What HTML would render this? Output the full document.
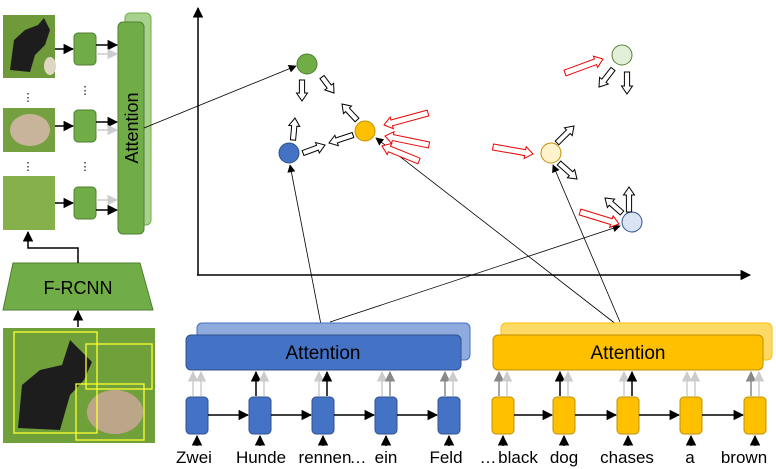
<!DOCTYPE html>
<html><head><meta charset="utf-8"><style>
html,body{margin:0;padding:0;background:#fff;width:776px;height:469px;overflow:hidden}
text{font-family:"Liberation Sans",sans-serif}
</style></head><body>
<svg id="s" width="776" height="469" viewBox="0 0 776 469" xmlns="http://www.w3.org/2000/svg">
<defs>
<marker id="a" viewBox="0 0 10 10" refX="9" refY="5" markerWidth="7" markerHeight="7" orient="auto"><path d="M0,0L10,5L0,10z" fill="#000"/></marker>
<marker id="ag" viewBox="0 0 10 10" refX="9" refY="5" markerWidth="7" markerHeight="7" orient="auto"><path d="M0,0L10,5L0,10z" fill="#ccc"/></marker>
<marker id="ad" viewBox="0 0 10 10" refX="9" refY="5" markerWidth="7" markerHeight="7" orient="auto"><path d="M0,0L10,5L0,10z" fill="#888"/></marker>
<marker id="as" viewBox="0 0 10 10" refX="9" refY="5" markerWidth="10" markerHeight="10" orient="auto"><path d="M0,0L10,5L0,10z" fill="#000"/></marker>
</defs>
<line x1="198" y1="275" x2="198" y2="8" stroke="#000" stroke-width="1.5" marker-end="url(#a)"/>
<line x1="197" y1="275" x2="750" y2="275" stroke="#000" stroke-width="1.5" marker-end="url(#a)"/>

<g>
<rect x="3" y="15" width="52" height="63" fill="#6f9a3a"/>
<path d="M10,70 L14,40 L25,30 L38,25 L44,18 L50,30 L45,45 L35,55 L30,72 Z" fill="#1d1d1d"/>
<ellipse cx="50" cy="66" rx="6" ry="9" fill="#e0d6c4"/>
<rect x="3" y="108" width="52" height="44" fill="#74a040"/>
<ellipse cx="30" cy="130" rx="20" ry="16" fill="#c8b49a"/>
<rect x="3" y="176" width="52" height="54" fill="#86b04c"/>
<text x="28" y="101" font-size="11" text-anchor="middle">⋮</text>
<text x="28" y="170" font-size="11" text-anchor="middle">⋮</text>
<text x="85" y="94" font-size="11" text-anchor="middle">⋮</text>
<text x="85" y="170" font-size="11" text-anchor="middle">⋮</text>
</g>
<g fill="#70ad47" stroke="#507e32" stroke-width="1">
<rect x="74" y="33" width="22" height="32" rx="4"/>
<rect x="74" y="110" width="22" height="32" rx="4"/>
<rect x="74" y="187" width="22" height="32" rx="4"/>
<rect x="125" y="13" width="26" height="212" rx="5" fill="#a9d18e" stroke="#70ad47"/>
<rect x="118" y="22" width="26" height="212" rx="5"/>
</g>
<text transform="translate(138,128) rotate(-90)" font-size="18" text-anchor="middle">Attention</text>
<g stroke="#000" stroke-width="1.5" marker-end="url(#a)">
<line x1="55" y1="49" x2="73" y2="49"/>
<line x1="55" y1="126" x2="73" y2="126"/>
<line x1="55" y1="203" x2="73" y2="203"/>
<line x1="96" y1="45" x2="117" y2="45"/>
<line x1="96" y1="122" x2="117" y2="122"/>
<line x1="96" y1="210" x2="117" y2="210"/>
</g>
<g stroke="#ccc" stroke-width="1.5" marker-end="url(#ag)">
<line x1="96" y1="54" x2="117" y2="54"/>
<line x1="96" y1="130" x2="117" y2="130"/>
<line x1="96" y1="200" x2="117" y2="200"/>
</g>
<polygon points="13,263 140,263 153,310 3,310" fill="#70ad47" stroke="#507e32"/>
<text x="78" y="294" font-size="18" text-anchor="middle">F-RCNN</text>
<polyline points="78,263 78,248 28,248 28,232" fill="none" stroke="#000" stroke-width="1.5" marker-end="url(#a)"/>
<line x1="78" y1="327" x2="78" y2="311" stroke="#000" stroke-width="1.5" marker-end="url(#a)"/>
<rect x="3" y="328" width="152" height="115" fill="#6fa03a"/>
<path d="M18,428 L22,385 L40,370 L62,365 L70,340 L80,350 L92,362 L84,380 L70,395 L60,430 Z" fill="#1d1d1d"/>
<ellipse cx="115" cy="412" rx="28" ry="22" fill="#bca68a"/>
<g fill="none" stroke="#ffff33" stroke-width="1.3">
<rect x="14" y="332" width="83" height="101"/>
<rect x="86" y="344" width="66" height="45"/>
<rect x="76" y="384" width="68" height="56"/>
</g>

<g stroke="#000" stroke-width="0.8" fill="none" marker-end="url(#as)">
<line x1="144" y1="128" x2="296" y2="66"/>
<line x1="323" y1="335" x2="290" y2="165"/>
<line x1="330" y1="322" x2="620" y2="226"/>
<line x1="630" y1="335" x2="376" y2="138"/>
<line x1="620" y1="322" x2="553" y2="165"/>
</g>

<circle cx="307" cy="64" r="10" fill="#70ad47" stroke="#507e32"/>
<circle cx="289" cy="153" r="10" fill="#4472c4" stroke="#2f528f"/>
<circle cx="365" cy="131" r="10" fill="#ffc000" stroke="#bf9000"/>
<circle cx="622" cy="55" r="10" fill="#e2f0d9" stroke="#548235"/>
<circle cx="551" cy="153" r="10" fill="#fff2cc" stroke="#bf9000"/>
<circle cx="632" cy="222" r="10" fill="#dae3f3" stroke="#2f528f"/>
<g id="arr"></g>

<rect x="197" y="323" width="273" height="37" rx="5" fill="#8faadc" stroke="#4472c4"/>
<rect x="186" y="335" width="275" height="35" rx="5" fill="#4472c4" stroke="#2f528f"/>
<text x="323" y="359" font-size="19" text-anchor="middle">Attention</text>
<rect x="501" y="323" width="271" height="37" rx="5" fill="#ffd966" stroke="#ffc000"/>
<rect x="493" y="335" width="270" height="35" rx="5" fill="#ffc000" stroke="#bf9000"/>
<text x="628" y="359" font-size="19" text-anchor="middle">Attention</text>
<g id="seq"></g>
</svg>
<script>
var NS="http://www.w3.org/2000/svg";
function el(p,t,a){var e=document.createElementNS(NS,t);for(var k in a)e.setAttribute(k,a[k]);p.appendChild(e);return e;}
var g=document.getElementById("arr");
function blk(x1,y1,x2,y2,c){var dx=x2-x1,dy=y2-y1,L=Math.sqrt(dx*dx+dy*dy),an=Math.atan2(dy,dx)*180/Math.PI;
var h=Math.min(8,L*0.45),sw=c=="red"?3:2.6,hw=c=="red"?6:5.5;
el(g,"polygon",{points:"0,"+(-sw)+" "+(L-h)+","+(-sw)+" "+(L-h)+","+(-hw)+" "+L+",0 "+(L-h)+","+hw+" "+(L-h)+","+sw+" 0,"+sw,
fill:"#fff",stroke:c=="red"?"#e00":"#000","stroke-width":1,transform:"translate("+x1+","+y1+") rotate("+an+")"});}
var A=[[302,80,302,101,0],[322,77,334,93,0],[293,140,295,118,0],[303,153,325,145,0],[357,120,342,104,0],[353,135,329,143,0],
[428,113,384,125,1],[429,145,385,136,1],[419,161,382,146,1],
[565,73,603,59,1],[613,69,599,87,0],[627,72,627,94,0],
[493,147,533,154,1],[557,143,574,126,0],[559,163,577,179,0],
[580,212,619,224,1],[622,213,605,198,0],[629,212,629,187,0]];
A.forEach(function(a){blk(a[0],a[1],a[2],a[3],a[4]?"red":"blk");});
var s=document.getElementById("seq");
function seq(xs,fill,st,words,wx,pat){
 for(var i=0;i<xs.length;i++){var x=xs[i];
  el(s,"rect",{x:x-11,y:397,width:22,height:37,rx:4,fill:fill,stroke:st});
  el(s,"line",{x1:x,y1:446,x2:x,y2:436,stroke:"#000","stroke-width":1.5,"marker-end":"url(#a)"});
  if(i<xs.length-1)el(s,"line",{x1:x+11,y1:415,x2:xs[i+1]-12,y2:415,stroke:"#000","stroke-width":1.5,"marker-end":"url(#a)"});
  var p=pat[i];
  var c1=p[0]=="b"?"#000":p[0]=="d"?"#888":"#ccc",c2=p[1]=="b"?"#000":p[1]=="d"?"#888":"#ccc";
  var m=function(c){return c=="#000"?"url(#a)":c=="#888"?"url(#ad)":"url(#ag)";};
  el(s,"line",{x1:x-4,y1:396,x2:x-4,y2:372,stroke:c1,"stroke-width":1.5,"marker-end":m(c1)});
  el(s,"line",{x1:x+4,y1:396,x2:x+4,y2:372,stroke:c2,"stroke-width":1.5,"marker-end":m(c2)});
 }
 for(var j=0;j<words.length;j++){var t=el(s,"text",{x:wx[j],y:463,"font-size":17,"text-anchor":"middle"});t.textContent=words[j];}
}
seq([197,260,323,386,449],"#4472c4","#2f528f",["Zwei","Hunde","rennen","…","ein","Feld"],[194,261,325,358,386,446],["gg","bg","gb","gd","dg"]);
seq([503,564,628,691,755],"#ffc000","#bf9000",["…","black","dog","chases","a","brown"],[488,518,564,627,690,744],["dg","bg","gb","gg","dg"]);
</script>
</body></html>
